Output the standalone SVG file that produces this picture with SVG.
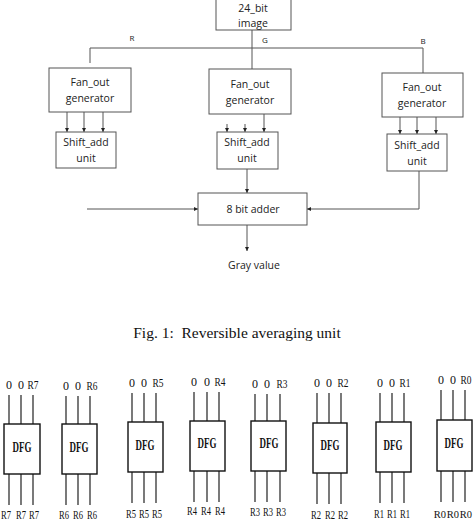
<svg xmlns="http://www.w3.org/2000/svg" width="474" height="521" viewBox="0 0 474 521">
<style>
.bx{fill:#fff;stroke:#555;stroke-width:1}
.ln{fill:none;stroke:#555;stroke-width:1}
.t{font-family:"Open Sans","DejaVu Sans",sans-serif;font-size:10.5px;fill:#222;text-anchor:middle}
.s{font-family:"Open Sans","DejaVu Sans",sans-serif;font-size:8px;fill:#222;text-anchor:middle}
.cap{font-family:"Liberation Serif",serif;font-size:15.5px;fill:#111;text-anchor:middle}
.dbx{fill:#fff;stroke:#111;stroke-width:1.4}
.dln{fill:none;stroke:#222;stroke-width:1.2}
.d{font-family:"Liberation Serif",serif;font-size:12px;fill:#111;text-anchor:middle}
.ds{font-family:"Liberation Serif",serif;font-size:10.5px;fill:#111;text-anchor:middle}
.dfg{font-family:"Liberation Serif",serif;font-size:14px;font-weight:bold;fill:#111;text-anchor:middle}
</style>
<defs>
<marker id="ah" viewBox="0 0 6 6" refX="6" refY="3" markerWidth="4" markerHeight="4" orient="auto" markerUnits="userSpaceOnUse">
<path d="M0,0 L6,3 L0,6 z" fill="#222"/>
</marker>
</defs>
<rect width="474" height="521" fill="#fff"/>
<g id="connectors">
<path class="ln" d="M252,30 V69"/>
<path class="ln" d="M90,48 H423"/>
<path class="ln" d="M90,48 V63"/>
<path class="ln" d="M423,48 V73"/>
<path class="ln" d="M67,112 V132" marker-end="url(#ah)"/>
<path class="ln" d="M84,112 V132" marker-end="url(#ah)"/>
<path class="ln" d="M103,112 V132" marker-end="url(#ah)"/>
<path class="ln" d="M227,124 V132" marker-end="url(#ah)"/>
<path class="ln" d="M245,124 V132" marker-end="url(#ah)"/>
<path class="ln" d="M264,114 V132" marker-end="url(#ah)"/>
<path class="ln" d="M400,117 V134" marker-end="url(#ah)"/>
<path class="ln" d="M417,117 V134" marker-end="url(#ah)"/>
<path class="ln" d="M436,117 V134" marker-end="url(#ah)"/>
<path class="ln" d="M247,169 V193" marker-end="url(#ah)"/>
<path class="ln" d="M87,209 H198" marker-end="url(#ah)"/>
<path class="ln" d="M419,171 V209 H307" marker-end="url(#ah)"/>
<path class="ln" d="M247,225 V251" marker-end="url(#ah)"/>
</g>
<g id="image24">
<rect class="bx" x="216" y="-2" width="75" height="32"/>
<text class="t" x="253" y="12">24_bit</text>
<text class="t" x="253" y="27">image</text>
</g>
<g id="labels">
<text class="s" x="132" y="41">R</text>
<text class="s" x="265" y="43">G</text>
<text class="s" x="423" y="44">B</text>
</g>
<g id="fan1">
<rect class="bx" x="49" y="68" width="82" height="44"/>
<text class="t" x="90" y="86">Fan_out</text>
<text class="t" x="90" y="102">generator</text>
</g>
<g id="fan2">
<rect class="bx" x="209" y="69" width="82" height="45"/>
<text class="t" x="250" y="88">Fan_out</text>
<text class="t" x="250" y="104">generator</text>
</g>
<g id="fan3">
<rect class="bx" x="382" y="73" width="81" height="44"/>
<text class="t" x="422" y="91">Fan_out</text>
<text class="t" x="422" y="107">generator</text>
</g>
<g id="shift1">
<rect class="bx" x="56" y="132" width="60" height="36"/>
<text class="t" x="86" y="146">Shift_add</text>
<text class="t" x="86" y="162">unit</text>
</g>
<g id="shift2">
<rect class="bx" x="217" y="132" width="61" height="37"/>
<text class="t" x="247" y="146">Shift_add</text>
<text class="t" x="247" y="162">unit</text>
</g>
<g id="shift3">
<rect class="bx" x="387" y="134" width="60" height="37"/>
<text class="t" x="417" y="149">Shift_add</text>
<text class="t" x="417" y="165">unit</text>
</g>
<g id="adder">
<rect class="bx" x="198" y="193" width="109" height="32"/>
<text class="t" x="253" y="213">8 bit adder</text>
</g>
<g id="gray">
<text class="t" x="254" y="269">Gray value</text>
</g>
<g id="caption">
<text class="cap" x="237" y="338" xml:space="preserve">Fig. 1:  Reversible averaging unit</text>
</g>
<g id="dfg7">
<path class="dln" d="M9,395 V424 M21,395 V424 M33,395 V424 M9,474 V505 M21,474 V505 M33,474 V505"/>
<rect class="dbx" x="4" y="424" width="36" height="50"/>
<text class="dfg" x="22" y="452" textLength="19" lengthAdjust="spacingAndGlyphs">DFG</text>
<text class="d" x="9" y="389">0</text><text class="d" x="21" y="389">0</text><text class="d" x="33" y="389" textLength="11" lengthAdjust="spacingAndGlyphs">R7</text>
<text class="d" x="6" y="519" textLength="10" lengthAdjust="spacingAndGlyphs">R7</text><text class="d" x="21" y="519" textLength="10" lengthAdjust="spacingAndGlyphs">R7</text><text class="d" x="34" y="519" textLength="10" lengthAdjust="spacingAndGlyphs">R7</text>
</g>
<g id="dfg6">
<path class="dln" d="M66,396 V424 M78,396 V424 M90,396 V424 M66,474 V505 M78,474 V505 M90,474 V505"/>
<rect class="dbx" x="62" y="424" width="35" height="50"/>
<text class="dfg" x="79" y="452" textLength="19" lengthAdjust="spacingAndGlyphs">DFG</text>
<text class="d" x="66" y="390">0</text><text class="d" x="78" y="390">0</text><text class="d" x="92" y="390" textLength="11" lengthAdjust="spacingAndGlyphs">R6</text>
<text class="d" x="64" y="519" textLength="10" lengthAdjust="spacingAndGlyphs">R6</text><text class="d" x="78" y="519" textLength="10" lengthAdjust="spacingAndGlyphs">R6</text><text class="d" x="92" y="519" textLength="10" lengthAdjust="spacingAndGlyphs">R6</text>
</g>
<g id="dfg5">
<path class="dln" d="M132,393 V422 M144,393 V422 M156,393 V422 M132,472 V503 M144,472 V503 M156,472 V503"/>
<rect class="dbx" x="128" y="422" width="35" height="50"/>
<text class="dfg" x="145" y="450" textLength="19" lengthAdjust="spacingAndGlyphs">DFG</text>
<text class="d" x="132" y="387">0</text><text class="d" x="144" y="387">0</text><text class="d" x="158" y="387" textLength="11" lengthAdjust="spacingAndGlyphs">R5</text>
<text class="d" x="131" y="518" textLength="10" lengthAdjust="spacingAndGlyphs">R5</text><text class="d" x="144" y="518" textLength="10" lengthAdjust="spacingAndGlyphs">R5</text><text class="d" x="157" y="518" textLength="10" lengthAdjust="spacingAndGlyphs">R5</text>
</g>
<g id="dfg4">
<path class="dln" d="M194,392 V421 M207,392 V421 M219,392 V421 M194,471 V502 M207,471 V502 M219,471 V502"/>
<rect class="dbx" x="190" y="421" width="35" height="50"/>
<text class="dfg" x="207" y="448" textLength="19" lengthAdjust="spacingAndGlyphs">DFG</text>
<text class="d" x="194" y="386">0</text><text class="d" x="207" y="386">0</text><text class="d" x="220" y="386" textLength="11" lengthAdjust="spacingAndGlyphs">R4</text>
<text class="d" x="192" y="515" textLength="10" lengthAdjust="spacingAndGlyphs">R4</text><text class="d" x="206" y="515" textLength="10" lengthAdjust="spacingAndGlyphs">R4</text><text class="d" x="220" y="515" textLength="10" lengthAdjust="spacingAndGlyphs">R4</text>
</g>
<g id="dfg3">
<path class="dln" d="M255,394 V421 M267,394 V421 M280,394 V421 M255,471 V502 M267,471 V502 M280,471 V502"/>
<rect class="dbx" x="251" y="421" width="35" height="50"/>
<text class="dfg" x="269" y="448" textLength="19" lengthAdjust="spacingAndGlyphs">DFG</text>
<text class="d" x="255" y="388">0</text><text class="d" x="267" y="388">0</text><text class="d" x="282" y="388" textLength="11" lengthAdjust="spacingAndGlyphs">R3</text>
<text class="d" x="255" y="516" textLength="10" lengthAdjust="spacingAndGlyphs">R3</text><text class="d" x="268" y="516" textLength="10" lengthAdjust="spacingAndGlyphs">R3</text><text class="d" x="281" y="516" textLength="10" lengthAdjust="spacingAndGlyphs">R3</text>
</g>
<g id="dfg2">
<path class="dln" d="M317,393 V423 M329,393 V423 M341,393 V423 M317,473 V504 M329,473 V504 M341,473 V504"/>
<rect class="dbx" x="313" y="423" width="34" height="50"/>
<text class="dfg" x="330" y="450" textLength="19" lengthAdjust="spacingAndGlyphs">DFG</text>
<text class="d" x="317" y="387">0</text><text class="d" x="329" y="387">0</text><text class="d" x="343" y="387" textLength="11" lengthAdjust="spacingAndGlyphs">R2</text>
<text class="d" x="316" y="519" textLength="10" lengthAdjust="spacingAndGlyphs">R2</text><text class="d" x="330" y="519" textLength="10" lengthAdjust="spacingAndGlyphs">R2</text><text class="d" x="343" y="519" textLength="10" lengthAdjust="spacingAndGlyphs">R2</text>
</g>
<g id="dfg1">
<path class="dln" d="M380,393 V422 M392,393 V422 M404,393 V422 M380,472 V503 M392,472 V503 M404,472 V503"/>
<rect class="dbx" x="376" y="422" width="35" height="50"/>
<text class="dfg" x="393" y="450" textLength="19" lengthAdjust="spacingAndGlyphs">DFG</text>
<text class="d" x="380" y="387">0</text><text class="d" x="392" y="387">0</text><text class="d" x="405" y="387" textLength="11" lengthAdjust="spacingAndGlyphs">R1</text>
<text class="d" x="379" y="518" textLength="10" lengthAdjust="spacingAndGlyphs">R1</text><text class="d" x="392" y="518" textLength="10" lengthAdjust="spacingAndGlyphs">R1</text><text class="d" x="405" y="518" textLength="10" lengthAdjust="spacingAndGlyphs">R1</text>
</g>
<g id="dfg0">
<path class="dln" d="M441,390 V420 M453,390 V420 M465,390 V420 M441,471 V502 M453,471 V502 M465,471 V502"/>
<rect class="dbx" x="437" y="420" width="35" height="51"/>
<text class="dfg" x="454" y="448" textLength="19" lengthAdjust="spacingAndGlyphs">DFG</text>
<text class="d" x="441" y="384">0</text><text class="d" x="453" y="384">0</text><text class="d" x="466" y="384" textLength="11" lengthAdjust="spacingAndGlyphs">R0</text>
<text class="ds" x="440" y="518">R0</text><text class="ds" x="453" y="518">R0</text><text class="ds" x="466" y="518">R0</text>
</g>
</svg>
